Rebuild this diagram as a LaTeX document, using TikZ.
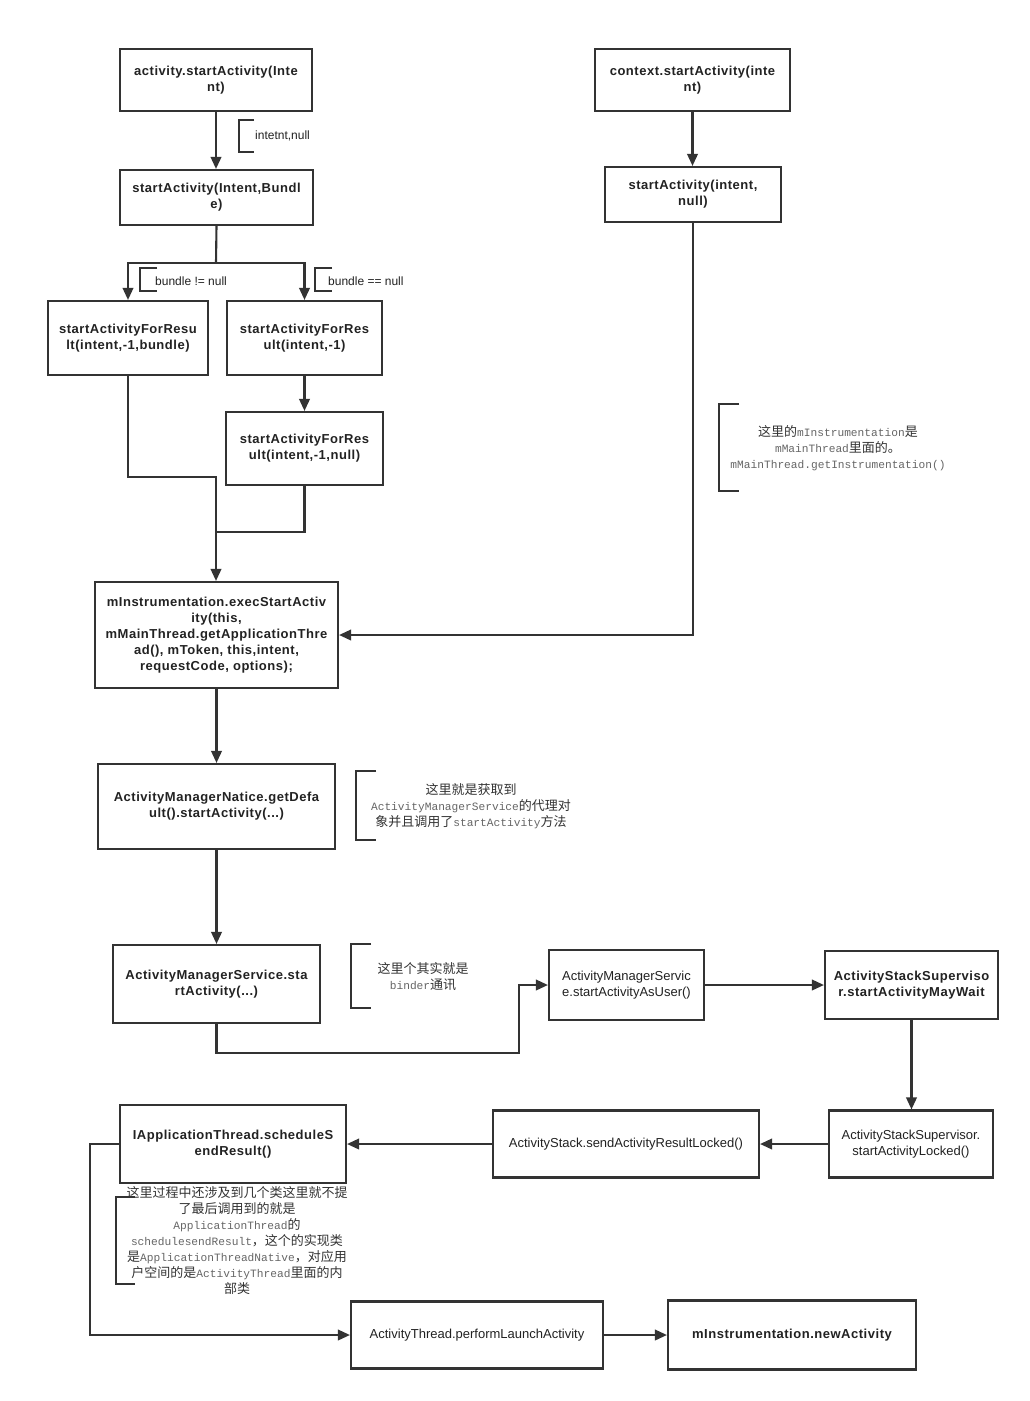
\documentclass[tikz,border=0pt]{standalone}
\usepackage{fontspec}
\setmainfont{Liberation Sans}
\newfontfamily\bfsp{Liberation Sans}[LetterSpace=4]
\newfontfamily\cjk{Noto Sans CJK SC}
\newfontfamily\annmono{Liberation Mono}
\usetikzlibrary{arrows.meta}
\definecolor{ink}{HTML}{333333}
\definecolor{txt}{HTML}{222222}
\definecolor{anntxt}{HTML}{333333}
\definecolor{latgray}{HTML}{666666}
\newcommand\mlat[1]{{\annmono\fontsize{11.2}{16}\selectfont\color{latgray}#1}}
\tikzset{
  box/.style={draw=ink, line width=2.1pt, inner sep=0pt, align=center, text=txt, font=\fontsize{13}{16}\selectfont},
  bbox/.style={box, font=\bfsp\bfseries\fontsize{13}{16}\selectfont},
  line/.style={draw=ink, line width=2.1pt},
  arr/.style={line, -{Triangle[length=12pt,width=10.5pt]}},
  brk/.style={draw=ink, line width=2.1pt},
  lbl/.style={font=\fontsize{12}{14}\selectfont, text=txt, inner sep=0pt, anchor=west},
  ann/.style={font=\cjk\fontsize{13}{16}\selectfont, text=anntxt, align=center, inner sep=0pt}
}
\begin{document}
\begin{tikzpicture}[x=1pt,y=-1pt]
\fill[white] (0,0) rectangle (1030,1401);
\useasboundingbox (0,0) rectangle (1030,1401);

% nodes
\node[bbox, minimum width=192pt, minimum height=62pt] (n1) at (216,80) {activity.startActivity(Inte\\nt)};
\node[bbox, minimum width=193pt, minimum height=55pt] (n2) at (216.5,197.5) {startActivity(Intent,Bundl\\e)};
\node[bbox, minimum width=160pt, minimum height=74pt] (n3) at (128,338) {startActivityForResu\\lt(intent,-1,bundle)};
\node[bbox, minimum width=155pt, minimum height=74pt] (n4) at (304.5,338) {startActivityForRes\\ult(intent,-1)};
\node[bbox, minimum width=157pt, minimum height=73pt] (n5) at (304.5,448.5) {startActivityForRes\\ult(intent,-1,null)};
\node[bbox, minimum width=243pt, minimum height=106pt] (n6) at (216.5,635) {mInstrumentation.execStartActiv\\ity(this,\\mMainThread.getApplicationThre\\ad(), mToken, this,intent,\\requestCode, options);};
\node[bbox, minimum width=195pt, minimum height=62pt] (n7) at (692.5,80) {context.startActivity(inte\\nt)};
\node[bbox, minimum width=176pt, minimum height=55pt] (n8) at (693,194.5) {startActivity(intent,\\null)};
\node[bbox, minimum width=237pt, minimum height=85pt] (n9) at (216.5,806.5) {ActivityManagerNatice.getDefa\\ult().startActivity(...)};
\node[bbox, minimum width=207pt, minimum height=78pt] (n10) at (216.5,984) {ActivityManagerService.sta\\rtActivity(...)};
\node[box, minimum width=155pt, minimum height=70pt] (n11) at (626.5,985) {ActivityManagerServic\\e.startActivityAsUser()};
\node[bbox, minimum width=173pt, minimum height=68pt] (n12) at (911.5,985) {ActivityStackSuperviso\\r.startActivityMayWait};
\node[box, minimum width=164pt, minimum height=67pt] (n13) at (911,1144) {ActivityStackSupervisor.\\startActivityLocked()};
\node[box, minimum width=266pt, minimum height=67pt] (n14) at (626,1144) {ActivityStack.sendActivityResultLocked()};
\node[bbox, minimum width=226pt, minimum height=78pt] (n15) at (233,1144) {IApplicationThread.scheduleS\\endResult()};
\node[box, minimum width=252pt, minimum height=67pt] (n16) at (477,1335) {ActivityThread.performLaunchActivity};
\node[bbox, minimum width=248pt, minimum height=69pt] (n17) at (792,1335) {mInstrumentation.newActivity};

% connectors
\draw[arr] (n1.south) -- (n1.south |- n2.north);
\coordinate (split) at (216,263);
\draw[line] (n2.south) -- (split);
\draw[arr] (split) -| (n3.north);
\draw[arr] (split) -| (n4.north);
\draw[arr] (n4.south) -- (n5.north);
\coordinate (j1) at (216,477);
\coordinate (j2) at (216,532);
\draw[arr] (n3.south) |- (j1) -- (j1 |- n6.north);
\draw[line] (n5.south) |- (j2);
\draw[arr] (n7.south) -- (n7.south |- n8.north);
\draw[arr] (n8.south) |- (n6.east);
\draw[arr] (n6.south) -- (n6.south |- n9.north);
\draw[arr] (n9.south) -- (n9.south |- n10.north);
\coordinate (k1) at (519,1053);
\draw[arr] (n10.south) |- (k1) |- (n11.west);
\draw[arr] (n11.east) -- (n12.west);
\draw[arr] (n12.south) -- (n12.south |- n13.north);
\draw[arr] (n13.west) -- (n14.east);
\draw[arr] (n14.west) -- (n14.west -| n15.east);
\coordinate (m1) at (90,1144);
\draw[arr] (n15.west) -- (m1) |- (n16.west);
\draw[arr] (n16.east) -- (n17.west);

% brackets
\draw[brk] (254,120) -- (239,120) -- (239,152) -- (254,152);
\draw[brk] (157,268) -- (140,268) -- (140,291) -- (157,291);
\draw[brk] (332,268) -- (315,268) -- (315,291) -- (332,291);
\draw[brk] (739,404) -- (719,404) -- (719,491) -- (739,491);
\draw[brk] (376,771) -- (356,771) -- (356,840) -- (376,840);
\draw[brk] (371,944) -- (351,944) -- (351,1008) -- (371,1008);
\draw[brk] (135,1197) -- (116,1197) -- (116,1284) -- (135,1284);

% labels
\node[lbl] (l1) at (255,136) {intetnt,null};
\node[lbl] (l2) at (155,281) {bundle != null};
\node[lbl] (l3) at (328,281) {bundle == null};

% annotations
\node[ann] (a1) at (838,448) {这里的\mlat{mInstrumentation}是\\\mlat{mMainThread}里面的。\\\mlat{mMainThread.getInstrumentation()}};
\node[ann] (a2) at (471,806) {这里就是获取到\\\mlat{ActivityManagerService}的代理对\\象并且调用了\mlat{startActivity}方法};
\node[ann] (a3) at (423,977) {这里个其实就是\\\mlat{binder}通讯};
\node[ann] (a4) at (237,1241) {这里过程中还涉及到几个类这里就不提\\了最后调用到的就是\\\mlat{ApplicationThread}的\\\mlat{schedulesendResult}，这个的实现类\\是\mlat{ApplicationThreadNative}，对应用\\户空间的是\mlat{ActivityThread}里面的内\\部类};
\end{tikzpicture}
\end{document}
